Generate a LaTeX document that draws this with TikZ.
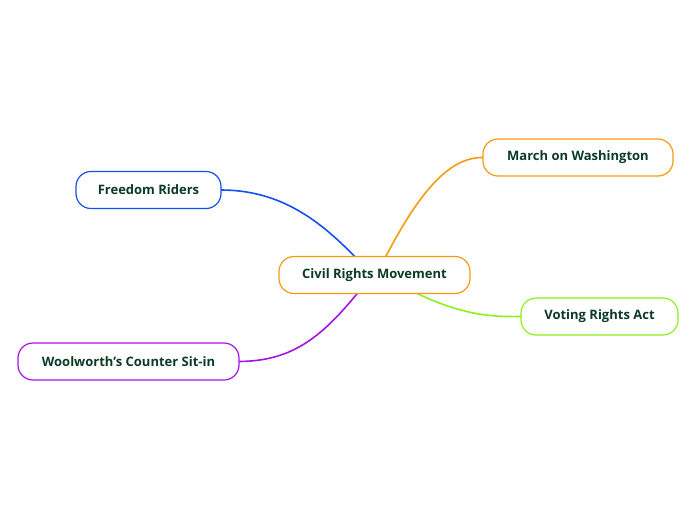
\documentclass[tikz,border=0pt]{standalone}
\usepackage{fontspec}
\setmainfont{Open Sans}
\definecolor{txt}{HTML}{0B3B24}
\definecolor{cor}{HTML}{F79A0F}
\definecolor{cbl}{HTML}{1550F0}
\definecolor{cgr}{HTML}{8CF01A}
\definecolor{cpu}{HTML}{A313E8}
\begin{document}
\begin{tikzpicture}[x=1pt,y=-1pt,
  box/.style={draw,rounded corners=15pt,line width=1.2pt,font=\fontsize{13}{15}\selectfont\bfseries,text=txt,fill=white,minimum height=37pt,inner xsep=0pt},
  link/.style={line width=1.6pt}]
\useasboundingbox (0,0) rectangle (696,520);
\draw[link,cor] (384,260) .. controls (420,190) and (450,157) .. (483,157.5);
\draw[link,cbl] (358,260) .. controls (320,220) and (280,190) .. (221,190);
\draw[link,cgr] (410,290) .. controls (460,315) and (490,317) .. (521,316.5);
\draw[link,cpu] (360,290) .. controls (320,340) and (290,361) .. (239,361.5);
\node[box,draw=cor,minimum width=191pt] (c) at (374.5,275) {Civil Rights Movement};
\node[box,draw=cor,minimum width=190pt] (m) at (578,157.5) {March on Washington};
\node[box,draw=cbl,minimum width=145pt] (f) at (148.5,190) {Freedom Riders};
\node[box,draw=cgr,minimum width=157pt] (v) at (599.5,316.5) {Voting Rights Act};
\node[box,draw=cpu,minimum width=221pt] (w) at (128.5,361.5) {Woolworth{\char"27}s Counter Sit-in};
\end{tikzpicture}
\end{document}
